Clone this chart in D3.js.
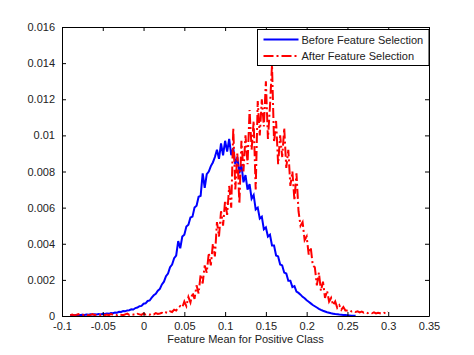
<!DOCTYPE html>
<html>
<head>
<meta charset="utf-8">
<script src="https://cdn.jsdelivr.net/npm/d3@7"></script>
<style>
  html, body { margin: 0; padding: 0; background: #ffffff; }
  svg { display: block; }
  text { font-family: "Liberation Sans", Arial, Helvetica, sans-serif; font-size: 11px; fill: #222; }
</style>
</head>
<body>
<svg id="chart" width="474" height="355"></svg>
<script>
// ---------------- data ----------------
const seriesNames = ["Before Feature Selection", "After Feature Selection"];
const xTickValues = [-0.1, -0.05, 0, 0.05, 0.1, 0.15, 0.2, 0.25, 0.3, 0.35];
const yTickValues = [0, 0.002, 0.004, 0.006, 0.008, 0.01, 0.012, 0.014, 0.016];
const xDomain = [-0.1, 0.35];
const yDomain = [0, 0.016];

// histogram bins: first bin centre and bin width (feature mean)
const beforeBinStart = -0.09;
const afterBinStart = -0.09;
const binWidth = 0.0025;

// Before Feature Selection density (one value per bin)
const beforeValues = [
  0.4e-4, 0.5e-4, 0.4e-4, 0.6e-4, 0.6e-4, 0.5e-4, 0.7e-4, 0.6e-4,
  0.8e-4, 0.7e-4, 0.9e-4, 0.8e-4, 1.0e-4, 0.8e-4, 1.1e-4, 0.9e-4,
  1.2e-4, 1.1e-4, 1.4e-4, 1.2e-4, 1.6e-4, 1.5e-4, 1.9e-4, 1.8e-4,
  2.3e-4, 2.2e-4, 2.7e-4, 2.6e-4, 3.1e-4, 3.2e-4, 3.7e-4, 3.6e-4,
  4.4e-4, 4.7e-4, 5.4e-4, 5.6e-4, 6.8e-4, 7.0e-4, 8.3e-4, 8.6e-4,
  10.2e-4, 11.5e-4, 12.3e-4, 14.0e-4, 15.0e-4, 17.5e-4, 19.0e-4, 22.0e-4,
  23.5e-4, 27.0e-4, 28.5e-4, 32.0e-4, 33.5e-4, 41.5e-4, 37.5e-4, 44.0e-4,
  45.0e-4, 49.5e-4, 50.5e-4, 54.5e-4, 55.0e-4, 60.0e-4, 61.0e-4, 66.0e-4,
  66.5e-4, 79.0e-4, 71.0e-4, 78.5e-4, 80.0e-4, 83.0e-4, 85.0e-4, 88.0e-4,
  92.0e-4, 87.0e-4, 95.5e-4, 89.0e-4, 97.0e-4, 91.0e-4, 98.0e-4, 89.0e-4,
  93.0e-4, 84.0e-4, 88.0e-4, 79.0e-4, 84.0e-4, 74.0e-4, 78.0e-4, 70.0e-4,
  73.0e-4, 65.0e-4, 67.0e-4, 59.0e-4, 60.0e-4, 54.0e-4, 55.0e-4, 48.0e-4,
  49.0e-4, 44.0e-4, 45.0e-4, 39.0e-4, 39.0e-4, 33.5e-4, 33.0e-4, 28.5e-4,
  28.0e-4, 24.0e-4, 23.5e-4, 19.5e-4, 19.5e-4, 16.0e-4, 16.5e-4, 13.5e-4,
  12.8e-4, 11.8e-4, 10.6e-4, 9.8e-4, 8.7e-4, 7.9e-4, 7.0e-4, 6.1e-4,
  5.4e-4, 4.7e-4, 4.0e-4, 3.4e-4, 2.9e-4, 2.5e-4, 2.1e-4, 1.8e-4,
  1.5e-4, 1.3e-4, 1.1e-4, 1.0e-4, 0.8e-4, 0.7e-4, 0.6e-4, 0.5e-4,
  0.4e-4, 0.3e-4, 0.2e-4, 0.2e-4, 0.1e-4
];

// After Feature Selection density (one value per bin)
const afterValues = [
  0.5e-4, 0.8e-4, 0.3e-4, 0.6e-4, 1.0e-4, 0.4e-4, 0.7e-4, 0.5e-4,
  0.9e-4, 0.3e-4, 0.6e-4, 1.1e-4, 0.5e-4, 0.8e-4, 0.4e-4, 0.7e-4,
  1.0e-4, 0.5e-4, 0.8e-4, 0.4e-4, 1.2e-4, 0.6e-4, 0.9e-4, 0.5e-4,
  1.1e-4, 0.7e-4, 0.4e-4, 0.9e-4, 1.3e-4, 0.6e-4, 1.0e-4, 0.8e-4,
  0.5e-4, 1.2e-4, 0.9e-4, 0.6e-4, 1.4e-4, 0.8e-4, 1.1e-4, 0.7e-4,
  1.3e-4, 0.9e-4, 1.6e-4, 1.1e-4, 1.4e-4, 1.8e-4, 1.2e-4, 2.0e-4,
  1.6e-4, 2.6e-4, 2.2e-4, 3.5e-4, 3.0e-4, 4.6e-4, 5.5e-4, 4.8e-4,
  8.0e-4, 5.5e-4, 10.5e-4, 7.5e-4, 13.0e-4, 9.5e-4, 17.0e-4, 12.5e-4,
  23.0e-4, 18.0e-4, 28.0e-4, 24.0e-4, 35.0e-4, 28.0e-4, 40.0e-4, 33.0e-4,
  52.0e-4, 44.0e-4, 58.0e-4, 50.0e-4, 64.0e-4, 56.0e-4, 72.0e-4, 60.0e-4,
  104.0e-4, 70.0e-4, 90.0e-4, 62.0e-4, 97.0e-4, 80.0e-4, 100.0e-4, 84.0e-4,
  114.0e-4, 92.0e-4, 108.0e-4, 70.0e-4, 119.0e-4, 100.0e-4, 120.0e-4, 105.0e-4,
  130.0e-4, 98.0e-4, 116.0e-4, 139.0e-4, 96.0e-4, 108.0e-4, 84.0e-4, 100.0e-4,
  88.0e-4, 104.0e-4, 82.0e-4, 92.0e-4, 72.0e-4, 80.0e-4, 64.0e-4, 79.0e-4,
  58.0e-4, 50.0e-4, 52.0e-4, 42.0e-4, 44.0e-4, 34.0e-4, 38.0e-4, 28.0e-4,
  27.0e-4, 17.0e-4, 24.0e-4, 14.0e-4, 19.0e-4, 10.0e-4, 14.0e-4, 8.0e-4,
  10.0e-4, 6.0e-4, 8.0e-4, 4.5e-4, 6.0e-4, 3.5e-4, 5.0e-4, 3.0e-4,
  3.0e-4, 3.3e-4, 2.5e-4, 2.8e-4, 2.2e-4, 2.6e-4, 2.0e-4, 2.4e-4,
  1.8e-4, 2.2e-4, 1.6e-4, 1.9e-4, 1.5e-4, 2.0e-4, 1.4e-4, 1.8e-4,
  1.5e-4, 1.2e-4, 1.7e-4, 1.3e-4, 2.2e-4
];

const xLabel = "Feature Mean for Positive Class";

// ---------------- drawing ----------------
const svg = d3.select("#chart");
const plot = { left: 62, right: 429, top: 27, bottom: 316 };

const x = d3.scaleLinear().domain(xDomain).range([plot.left, plot.right]);
const y = d3.scaleLinear().domain(yDomain).range([plot.bottom, plot.top]);

const fmt = d => String(+d.toFixed(4));

svg.append("defs").append("clipPath").attr("id", "clip")
  .append("rect")
  .attr("x", plot.left).attr("y", plot.top)
  .attr("width", plot.right - plot.left).attr("height", plot.bottom - plot.top);

const toPoints = (start, vals) => vals.map((v, i) => ({ x: start + i * binWidth, y: v }));
const beforeData = toPoints(beforeBinStart, beforeValues);
const afterData = toPoints(afterBinStart, afterValues);

const line = d3.line().x(d => x(d.x)).y(d => y(d.y));

const curves = svg.append("g").attr("clip-path", "url(#clip)");
curves.append("path").datum(beforeData)
  .attr("d", line).attr("fill", "none")
  .attr("stroke", "#0000ff").attr("stroke-width", 2)
  .attr("stroke-linejoin", "miter");
curves.append("path").datum(afterData)
  .attr("d", line).attr("fill", "none")
  .attr("stroke", "#ff0000").attr("stroke-width", 2)
  .attr("stroke-dasharray", "10,3,2,3");

// axes (MATLAB style: box, inward ticks)
const tickLen = 4;
const axB = d3.axisBottom(x).tickValues(xTickValues).tickFormat(fmt).tickSizeInner(-tickLen).tickSizeOuter(0).tickPadding(6);
const axT = d3.axisTop(x).tickValues(xTickValues).tickFormat("").tickSizeInner(-tickLen).tickSizeOuter(0);
const axL = d3.axisLeft(y).tickValues(yTickValues).tickFormat(fmt).tickSizeInner(-tickLen).tickSizeOuter(0).tickPadding(7);
const axR = d3.axisRight(y).tickValues(yTickValues).tickFormat("").tickSizeInner(-tickLen).tickSizeOuter(0);

function styleAxis(g) {
  g.selectAll("path.domain").attr("stroke", "#000").attr("stroke-width", 1);
  g.selectAll(".tick line").attr("stroke", "#000").attr("stroke-width", 1);
  g.selectAll(".tick text").attr("font-family", "'Liberation Sans', Arial, sans-serif").attr("font-size", 11).attr("fill", "#222");
}

svg.append("g").attr("transform", `translate(0,${plot.bottom})`).call(axB).call(styleAxis);
svg.append("g").attr("transform", `translate(0,${plot.top})`).call(axT).call(styleAxis);
svg.append("g").attr("transform", `translate(${plot.left},0)`).call(axL).call(styleAxis);
svg.append("g").attr("transform", `translate(${plot.right},0)`).call(axR).call(styleAxis);

// x label
svg.append("text")
  .attr("x", (plot.left + plot.right) / 2).attr("y", 343)
  .attr("text-anchor", "middle")
  .text(xLabel);

// legend
const leg = svg.append("g");
leg.append("rect")
  .attr("x", 257.5).attr("y", 29.5).attr("width", 171.5).attr("height", 36)
  .attr("fill", "#fff").attr("stroke", "#000").attr("stroke-width", 1);
const legStyles = [
  { color: "#0000ff", dash: null },
  { color: "#ff0000", dash: "10,3,2,3" }
];
seriesNames.forEach((name, i) => {
  const cy = 39.5 + i * 16.5;
  leg.append("line")
    .attr("x1", 263.5).attr("x2", 298.5).attr("y1", cy).attr("y2", cy)
    .attr("stroke", legStyles[i].color).attr("stroke-width", 2)
    .attr("stroke-dasharray", legStyles[i].dash);
  leg.append("text")
    .attr("x", 301.5).attr("y", cy + 4)
    .text(name);
});
</script>
</body>
</html>
